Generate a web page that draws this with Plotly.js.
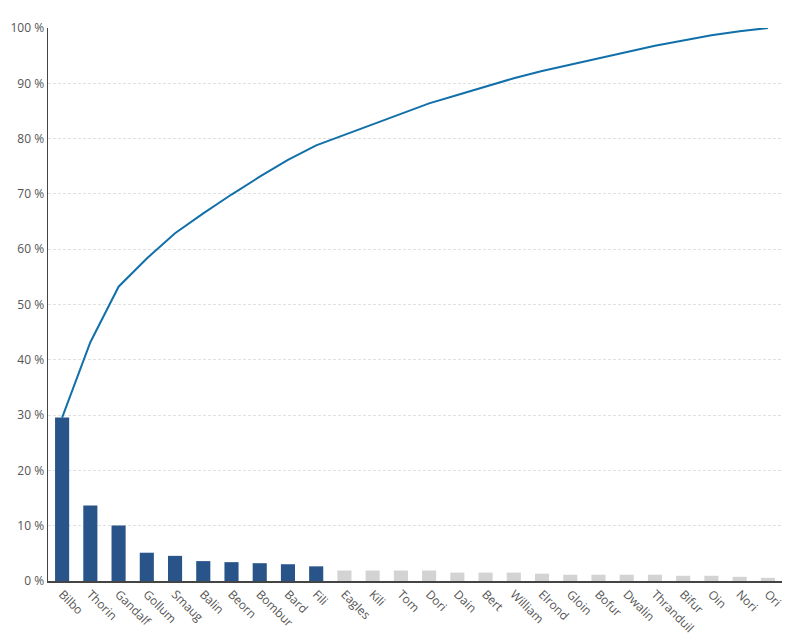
<!DOCTYPE html>
<html>
<head>
<meta charset="utf-8">
<script src="https://cdn.plot.ly/plotly-3.0.1.min.js"></script>
<style>html,body{margin:0;padding:0;background:#fff;}#chart{width:802px;height:641px;}</style>
</head>
<body>
<div id="chart"></div>
<script>
var names = ["Bilbo","Thorin","Gandalf","Gollum","Smaug","Balin","Beorn","Bombur","Bard","Fili","Eagles","Kili","Tom","Dori","Dain","Bert","William","Elrond","Gloin","Bofur","Dwalin","Thranduil","Bifur","Oin","Nori","Ori"];
var counts = [156,72,53,27,24,19,18,17,16,14,10,10,10,10,8,8,8,7,6,6,6,6,5,5,4,3];
var highlightCount = 10;
var yTickVals = [0,10,20,30,40,50,60,70,80,90,100];

var total = counts.reduce(function(a,b){return a+b;},0);
var pct = counts.map(function(c){return c/total*100;});
var cum = [], run = 0;
counts.forEach(function(c){ run += c; cum.push(run/total*100); });
var barColors = names.map(function(n,i){ return i < highlightCount ? '#28548A' : '#D3D3D3'; });

var traces = [
  {type:'bar', x:names, y:pct, width:0.5, marker:{color:barColors}, hoverinfo:'x+y'},
  {type:'scatter', mode:'lines', x:names, y:cum, line:{color:'#1170AA', width:2}}
];
var layout = {
  width:802, height:641,
  margin:{l:48, r:20, t:28, b:60},
  showlegend:false,
  paper_bgcolor:'#fff', plot_bgcolor:'#fff',
  font:{family:'"Open Sans", "Noto Sans", sans-serif', size:12, color:'#555'},
  xaxis:{type:'category', range:[-0.5,25.5], tickangle:45, showline:true, linecolor:'#444', linewidth:1.5,
         showgrid:false, ticks:'', tickfont:{size:12, color:'#555'}, fixedrange:true},
  yaxis:{range:[0,100], tickvals:yTickVals, ticktext:yTickVals.map(function(v){return v+' %';}),
         showline:true, linecolor:'#444', linewidth:1.5, gridcolor:'#e0e0e0', griddash:'3px,2px', gridwidth:1,
         zeroline:false, ticks:'', tickfont:{size:12, color:'#555'}, fixedrange:true}
};
Plotly.newPlot('chart', traces, layout, {displayModeBar:false, staticPlot:true});
</script>
</body>
</html>
